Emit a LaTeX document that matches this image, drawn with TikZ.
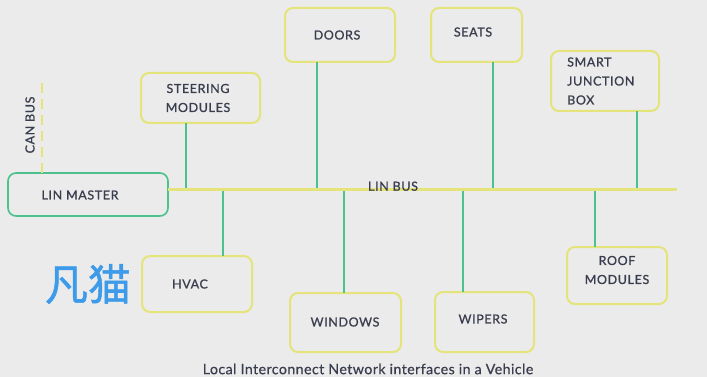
\documentclass[tikz,border=0pt]{standalone}
\usepackage{fontspec}
\setmainfont{Lato}
\newfontfamily\cjk{Noto Sans CJK SC}[FakeBold=1.2]
\newfontfamily\lbf{Lato}[FakeBold=0.9,LetterSpace=5]
\newfontfamily\capf{Lato}[FakeBold=0.5,LetterSpace=3]
\definecolor{bg}{HTML}{EBEBEB}
\definecolor{ybox}{HTML}{E4E47A}
\definecolor{gline}{HTML}{4CC08E}
\definecolor{txt}{HTML}{3A3D4E}
\definecolor{wm}{HTML}{3D9BE9}
\begin{document}
\begin{tikzpicture}[x=1pt,y=-1pt,
  ybx/.style={draw=ybox,line width=2pt,rounded corners=8pt},
  gbx/.style={draw=gline,line width=1.6pt,rounded corners=8pt},
  lbl/.style={text=txt,font=\lbf\fontsize{12.5}{19}\selectfont,align=center,inner sep=0pt},
  conn/.style={draw=gline,line width=1.5pt},
  bus/.style={draw=ybox,line width=3pt}]
\fill[bg] (0,0) rectangle (707,377);
\useasboundingbox (0,0) rectangle (707,377);
% boxes
\draw[gbx] (8,173) rectangle (168,216);
\node[lbl] (lm) at (80,195) {LIN MASTER};
\draw[ybx] (141,73) rectangle (260,123);
\node[lbl] (st) at (198,98) {STEERING\\MODULES};
\draw[ybx] (285,8) rectangle (395,62);
\node[lbl] (dr) at (337,35) {DOORS};
\draw[ybx] (431,8) rectangle (522,62);
\node[lbl] (se) at (473,32) {SEATS};
\draw[ybx] (551,51) rectangle (659,111);
\node[lbl,align=left,anchor=west] (sj) at (567,81) {SMART\\JUNCTION\\BOX};
\draw[ybx] (142,256) rectangle (252,312);
\node[lbl] (hv) at (190,284) {HVAC};
\draw[ybx] (290,293) rectangle (401,352);
\node[lbl] (wi) at (345,322) {WINDOWS};
\draw[ybx] (435,292) rectangle (534,352);
\node[lbl] (wp) at (483,319) {WIPERS};
\draw[ybx] (567,247) rectangle (667,304);
\node[lbl] (rf) at (617,270) {ROOF\\MODULES};
% coordinates
\coordinate (b0) at (168,189);
\coordinate (b1) at (677,189);
\coordinate (can0) at (42,80);
\coordinate (can1) at (42,173);
% CAN bus
\draw[draw=ybox,line width=2.5pt,dash pattern=on 10pt off 6pt] (can1) -- (can0);
\node[lbl,rotate=90] (canl) at (30,125) {CAN BUS};
% connectors
\draw[conn] (186,123) -- (186,189);
\draw[conn] (317,62) -- (317,189);
\draw[conn] (493,62) -- (493,189);
\draw[conn] (637,111) -- (637,189);
\draw[conn] (223,189) -- (223,256);
\draw[conn] (344,189) -- (344,293);
\draw[conn] (463,189) -- (463,292);
\draw[conn] (595,189) -- (595,247);
% bus
\draw[bus] (b0) -- (b1);
\node[lbl,anchor=south] (lb) at (393,191) {LIN BUS};
% caption
\node[text=txt,font=\capf\fontsize{14.2}{16}\selectfont,inner sep=0pt] (cap) at (368,369) {Local Interconnect Network interfaces in a Vehicle};
% watermark
\node[text=wm,font=\cjk\fontsize{43}{45}\selectfont,inner sep=0pt] (wmk) at (88,284) {凡猫};
\end{tikzpicture}
\end{document}
